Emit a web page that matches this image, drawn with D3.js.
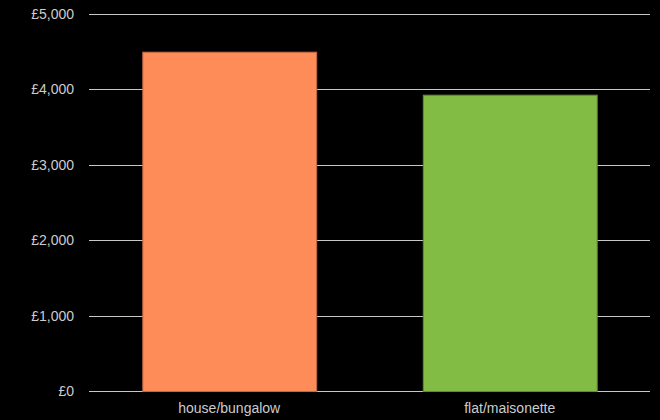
<!DOCTYPE html>
<html>
<head>
<meta charset="utf-8">
<script src="https://cdn.jsdelivr.net/npm/d3@7"></script>
<style>
  html, body { margin: 0; padding: 0; background: #000; }
  svg { display: block; }
</style>
</head>
<body>
<svg id="chart"></svg>
<script>
// data
const categories = ["house/bungalow", "flat/maisonette"];
const values = [4500, 3930];
const colors = ["#fe8c58", "#82bc45"];
const yTicks = [0, 1000, 2000, 3000, 4000, 5000];

// constants
const width = 660;
const height = 420;
const margin = { left: 89, right: 10, top: 14, bottom: 29 };

const svg = d3.select('svg#chart').attr('width', width).attr('height', height);

const x = d3.scaleBand()
    .domain(categories)
    .range([margin.left, width - margin.right])
    .paddingInner(0.38)
    .paddingOuter(0.19);

const y = d3.scaleLinear()
    .domain([0, 5000])
    .range([height - margin.bottom, margin.top]);

// gridlines
svg.append("g")
    .selectAll("line")
    .data(yTicks)
    .join("line")
    .attr("x1", margin.left)
    .attr("x2", width - margin.right)
    .attr("y1", d => Math.round(y(d)) + 0.5)
    .attr("y2", d => Math.round(y(d)) + 0.5)
    .attr("stroke", "#c8c8c8")
    .attr("stroke-width", 1);

// y labels
svg.append("g")
    .selectAll("text")
    .data(yTicks)
    .join("text")
    .attr("x", 74)
    .attr("y", d => y(d) + 5)
    .attr("text-anchor", "end")
    .attr("font-family", "Liberation Sans, Arial, sans-serif")
    .attr("font-size", 14)
    .attr("fill", "#cccccc")
    .text(d => "£" + d3.format(",")(d));

// bars
svg.append("g")
    .selectAll("rect")
    .data(values)
    .join("rect")
    .attr("x", (d, i) => x(categories[i]) + 0.5)
    .attr("width", x.bandwidth())
    .attr("y", d => y(d) + 0.5)
    .attr("height", d => y(0) - y(d))
    .attr("fill", (d, i) => colors[i])
    .attr("stroke", (d, i) => d3.color(colors[i]).darker(0.8))
    .attr("stroke-width", 1);

// x labels
svg.append("g")
    .selectAll("text")
    .data(categories)
    .join("text")
    .attr("x", d => x(d) + x.bandwidth() / 2)
    .attr("y", 413)
    .attr("text-anchor", "middle")
    .attr("font-family", "Liberation Sans, Arial, sans-serif")
    .attr("font-size", 14)
    .attr("fill", "#cccccc")
    .text(d => d);
</script>
</body>
</html>
